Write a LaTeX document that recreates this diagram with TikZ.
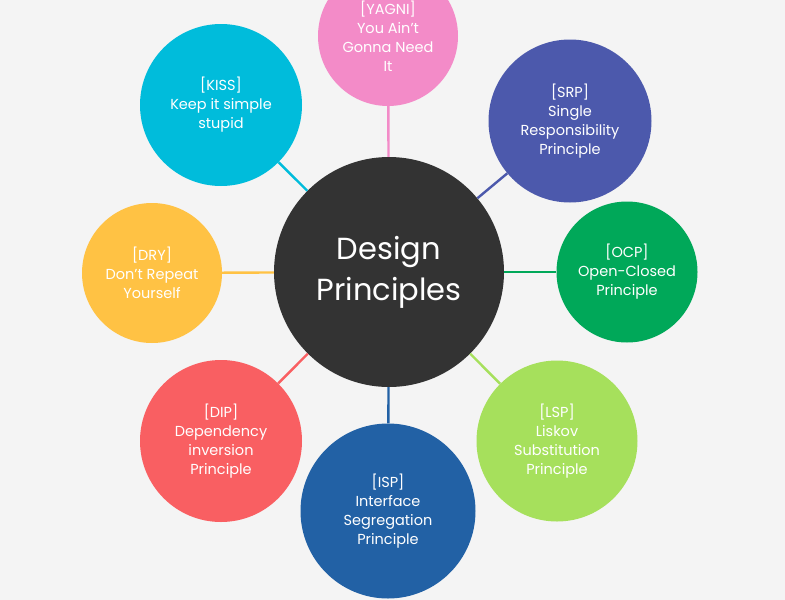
\documentclass[tikz,border=0pt]{standalone}
\usepackage{fontspec}
\setmainfont{Poppins}
\usepackage{xcolor}
\definecolor{cBack}{HTML}{F4F4F4}
\definecolor{cCore}{HTML}{333333}
\definecolor{cYagni}{HTML}{F38BC8}
\definecolor{cKiss}{HTML}{00BCDB}
\definecolor{cSrp}{HTML}{4C59AC}
\definecolor{cOcp}{HTML}{00A859}
\definecolor{cDry}{HTML}{FFC244}
\definecolor{cDip}{HTML}{F95F62}
\definecolor{cLsp}{HTML}{A6E05C}
\definecolor{cIsp}{HTML}{2261A5}
\usepackage{tikz}
\usetikzlibrary{positioning}
\tikzset{
  node-core/.style={circle,fill=cCore,text=white,inner sep=0pt,
    minimum size=230pt,align=center,font=\fontsize{30.5}{41}\selectfont},
  node-principle/.style={circle,fill=#1,text=white,inner sep=0pt,
    align=center,font=\fontsize{14.5}{19}\selectfont},
  link/.style={line width=2.4pt,draw=#1},
}

\begin{document}
\begin{tikzpicture}[x=1pt,y=-1pt]
  \fill[cBack] (0,0) rectangle (785,600);
  \useasboundingbox (0,0) rectangle (785,600);
  \node[node-core] (core) at (389,272) {Design\\Principles};
  % satellites, clockwise from the top
  \node[node-principle=cYagni,minimum size=140pt] (yagni) at (388,36) {[YAGNI]\\You Ain't\\Gonna Need\\It};
  \node[node-principle=cSrp,minimum size=163pt] (srp) at (570,121) {[SRP]\\Single\\Responsibility\\Principle};
  \node[node-principle=cOcp,minimum size=141pt] (ocp) at (627,272) {[OCP]\\Open-Closed\\Principle};
  \node[node-principle=cLsp,minimum size=161pt] (lsp) at (557,441) {[LSP]\\Liskov\\Substitution\\Principle};
  \node[node-principle=cIsp,minimum size=175pt] (isp) at (388,511) {[ISP]\\Interface\\Segregation\\Principle};
  \node[node-principle=cDip,minimum size=162pt] (dip) at (221,441) {[DIP]\\Dependency\\inversion\\Principle};
  \node[node-principle=cDry,minimum size=140pt] (dry) at (152,273) {[DRY]\\Don't Repeat\\Yourself};
  \node[node-principle=cKiss,minimum size=162pt] (kiss) at (221,105) {[KISS]\\Keep it simple\\stupid};
  \draw[link=cYagni] (yagni) -- (core);
  \draw[link=cSrp] (srp) -- (core);
  \draw[link=cOcp] (ocp) -- (core);
  \draw[link=cLsp] (lsp) -- (core);
  \draw[link=cIsp] (isp) -- (core);
  \draw[link=cDip] (dip) -- (core);
  \draw[link=cDry] (dry) -- (core);
  \draw[link=cKiss] (kiss) -- (core);
\end{tikzpicture}
\end{document}
